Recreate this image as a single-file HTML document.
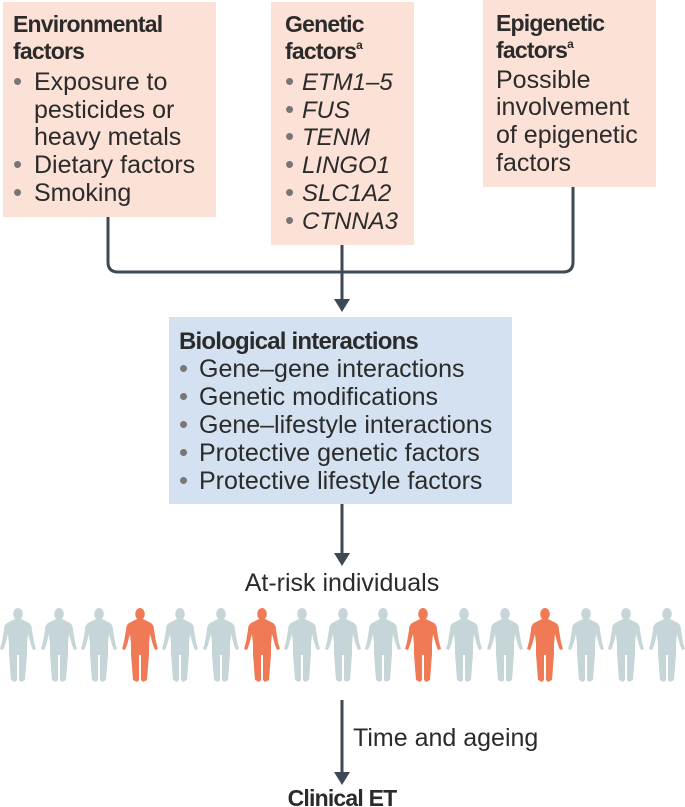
<!DOCTYPE html>
<html><head><meta charset="utf-8"><style>
html,body{margin:0;padding:0;background:#fff}
svg{display:block}
text{font-family:"Liberation Sans",sans-serif;fill:#2b2b2b}
.t{font-size:23px;font-weight:bold;letter-spacing:-0.8px}
.i{font-size:25px}
.g{font-size:24px;font-style:italic}
.b{fill:#777;font-size:26px}
</style></head><body>
<svg width="685" height="807" viewBox="0 0 685 807" xmlns="http://www.w3.org/2000/svg">
<defs>
<g id="p">
<ellipse cx="0" cy="6" rx="4.8" ry="6"/>
<path d="M-3,11 L-11,15 Q-14,17 -14,22 L-16,34 L-18,41 L-15,42 L-13,37 L-10,26 L-9,36 L-9,46 L-7,72 L-3,74 L-1,72 L-1,47 L1,47 L1,72 L3,74 L7,72 L9,46 L9,36 L10,26 L13,37 L15,42 L18,41 L16,34 L14,22 Q14,17 11,15 L3,11 Z"/>
</g>
</defs>
<rect x="3" y="2" width="213" height="215" fill="#fbe1d6"/>
<rect x="271" y="2" width="143" height="243" fill="#fbe1d6"/>
<rect x="483" y="0" width="173" height="187" fill="#fbe1d6"/>
<rect x="169" y="317" width="343" height="187" fill="#d3e1f0"/>
<g fill="none" stroke="#3d4a55" stroke-width="3">
<path d="M108,217 V262 Q108,272 118,272 H563 Q573,272 573,262 V187"/>
<path d="M342,245 V302"/>
<path d="M342,504 V556"/>
<path d="M342,700 V775"/>
</g>
<g fill="#3d4a55">
<path d="M334,299 L350,299 L342,312 Z"/>
<path d="M334,553 L350,553 L342,566 Z"/>
<path d="M334,772 L350,772 L342,785 Z"/>
</g>
<text class="t" x="13" y="32">Environmental</text>
<text class="t" x="13" y="59">factors</text>
<text class="b" x="13" y="90">•</text><text class="b" x="13" y="173">•</text><text class="b" x="13" y="201">•</text>
<text class="i" x="34" y="90">Exposure to</text>
<text class="i" x="34" y="118">pesticides or</text>
<text class="i" x="34" y="145">heavy metals</text>
<text class="i" x="34" y="173">Dietary factors</text>
<text class="i" x="34" y="201">Smoking</text>
<text class="t" x="285" y="32">Genetic</text>
<text class="t" x="285" y="59">factors<tspan font-size="12" dy="-10">a</tspan></text>
<text class="b" x="285" y="90">•</text><text class="b" x="285" y="118">•</text><text class="b" x="285" y="145">•</text>
<text class="b" x="285" y="173">•</text><text class="b" x="285" y="201">•</text><text class="b" x="285" y="229">•</text>
<text class="g" x="302" y="90">ETM1–5</text>
<text class="g" x="302" y="118">FUS</text>
<text class="g" x="302" y="145">TENM</text>
<text class="g" x="302" y="173">LINGO1</text>
<text class="g" x="302" y="201">SLC1A2</text>
<text class="g" x="302" y="229">CTNNA3</text>
<text class="t" x="496" y="31">Epigenetic</text>
<text class="t" x="496" y="58">factors<tspan font-size="12" dy="-10">a</tspan></text>
<text class="i" x="496" y="88">Possible</text>
<text class="i" x="496" y="115">involvement</text>
<text class="i" x="496" y="143">of epigenetic</text>
<text class="i" x="496" y="171">factors</text>
<text class="t" x="179" y="349" style="font-size:24px">Biological interactions</text>
<text class="b" x="179" y="377">•</text><text class="b" x="179" y="405">•</text><text class="b" x="179" y="433">•</text>
<text class="b" x="179" y="461">•</text><text class="b" x="179" y="489">•</text>
<text class="i" x="199" y="377">Gene–gene interactions</text>
<text class="i" x="199" y="405">Genetic modifications</text>
<text class="i" x="199" y="433">Gene–lifestyle interactions</text>
<text class="i" x="199" y="461">Protective genetic factors</text>
<text class="i" x="199" y="489">Protective lifestyle factors</text>
<text class="i" x="342" y="591" text-anchor="middle">At-risk individuals</text>
<g fill="#c5d5d8">
<use href="#p" x="18" y="608"/><use href="#p" x="59" y="608"/><use href="#p" x="99" y="608"/>
<use href="#p" x="180" y="608"/><use href="#p" x="221" y="608"/>
<use href="#p" x="302" y="608"/><use href="#p" x="343" y="608"/><use href="#p" x="383" y="608"/>
<use href="#p" x="464" y="608"/><use href="#p" x="505" y="608"/>
<use href="#p" x="586" y="608"/><use href="#p" x="626" y="608"/><use href="#p" x="667" y="608"/>
</g>
<g fill="#f07a55">
<use href="#p" x="140" y="608"/><use href="#p" x="262" y="608"/><use href="#p" x="423" y="608"/><use href="#p" x="545" y="608"/>
</g>
<text class="i" x="353" y="746">Time and ageing</text>
<text class="t" x="342" y="806" text-anchor="middle" style="font-size:23px">Clinical ET</text>
</svg>
</body></html>
